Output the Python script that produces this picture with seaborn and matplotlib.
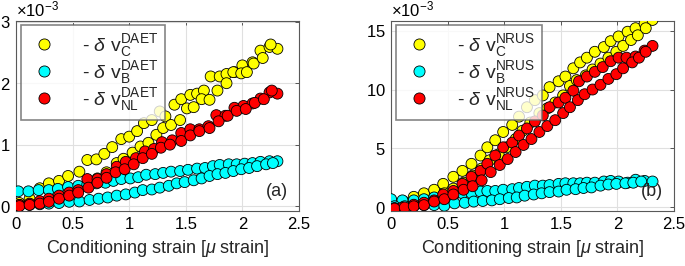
import numpy as np
import pandas as pd
import matplotlib
matplotlib.use('Agg')
import matplotlib.pyplot as plt
import seaborn as sns
from matplotlib.lines import Line2D
from matplotlib.ticker import ScalarFormatter, FuncFormatter

## data, y values in units of 1e-3
## (a) DAET : two branches per series (upper / lower)
a_C_x_up = [0.03,0.12,0.21,0.29,0.38,0.46,0.56,0.63,0.71,0.78,0.85,0.93,1.00,1.07,1.13,1.20,1.27,1.32,1.40,1.46,1.54,1.60,1.66,1.72,1.80,1.86,1.93,2.00,2.09,2.16,2.24,2.31]
a_C_y_up = [0.05,0.12,0.29,0.37,0.41,0.49,0.56,0.75,0.76,0.85,0.96,1.09,1.13,1.22,1.35,1.40,1.54,1.46,1.65,1.74,1.81,1.83,1.88,2.11,2.11,2.15,2.18,2.29,2.34,2.53,2.59,2.56]
a_C_x_lo = [0.03,0.12,0.21,0.29,0.38,0.47,0.55,0.64,0.72,0.80,0.89,0.95,1.03,1.10,1.17,1.24,1.30,1.37,1.45,1.51,1.57,1.64,1.71,1.78,1.86,1.92,1.99,2.04,2.10,2.18,2.25]
a_C_y_lo = [0.02,0.03,0.05,0.08,0.13,0.19,0.26,0.36,0.45,0.55,0.70,0.77,0.87,0.97,1.03,1.16,1.27,1.32,1.40,1.59,1.61,1.74,1.73,1.88,2.00,2.18,2.16,2.18,2.32,2.41,2.63]

a_B_x_up = [0.02,0.11,0.20,0.29,0.37,0.46,0.55,0.63,0.71,0.79,0.86,0.93,1.01,1.08,1.15,1.23,1.30,1.37,1.45,1.52,1.60,1.67,1.74,1.80,1.88,1.95,2.02,2.09,2.16,2.24,2.31]
a_B_y_up = [0.24,0.24,0.26,0.26,0.28,0.31,0.33,0.35,0.37,0.38,0.41,0.44,0.45,0.47,0.51,0.52,0.54,0.56,0.57,0.59,0.61,0.62,0.65,0.67,0.68,0.68,0.69,0.70,0.72,0.73,0.73]
a_B_x_lo = [0.03,0.12,0.21,0.29,0.38,0.47,0.56,0.65,0.73,0.81,0.89,0.97,1.05,1.12,1.20,1.27,1.35,1.42,1.49,1.57,1.64,1.71,1.78,1.85,1.92,1.99,2.06,2.13,2.21,2.27]
a_B_y_lo = [0.01,0.02,0.03,0.04,0.05,0.07,0.075,0.10,0.12,0.14,0.17,0.19,0.22,0.26,0.27,0.30,0.33,0.37,0.39,0.42,0.45,0.49,0.52,0.54,0.57,0.60,0.62,0.65,0.68,0.70]

a_NL_x_up = [0.03,0.12,0.21,0.29,0.38,0.47,0.55,0.63,0.72,0.80,0.89,0.97,1.06,1.14,1.22,1.29,1.38,1.46,1.54,1.62,1.70,1.77,1.85,1.93,2.01,2.09,2.16,2.24,2.31]
a_NL_y_up = [0.02,0.04,0.08,0.12,0.17,0.22,0.26,0.44,0.44,0.52,0.64,0.72,0.78,0.89,0.93,1.04,1.07,1.19,1.25,1.25,1.30,1.48,1.47,1.60,1.63,1.67,1.75,1.85,1.83]
a_NL_x_lo = [0.03,0.12,0.21,0.29,0.38,0.47,0.55,0.64,0.72,0.80,0.88,0.96,1.04,1.12,1.20,1.28,1.36,1.46,1.54,1.62,1.71,1.79,1.87,1.95,2.03,2.11,2.19,2.26]
a_NL_y_lo = [0.00,0.02,0.04,0.07,0.12,0.17,0.22,0.30,0.38,0.46,0.55,0.60,0.68,0.78,0.85,0.95,1.00,1.06,1.15,1.22,1.27,1.38,1.47,1.55,1.58,1.68,1.74,1.88]

## (b) NRUS
b_C_x_up = [0.03,0.11,0.20,0.29,0.38,0.46,0.55,0.63,0.71,0.79,0.85,0.92,0.99,1.07,1.13,1.20,1.27,1.34,1.40,1.48,1.54,1.61,1.67,1.73,1.80,1.88,1.94,2.01,2.09,2.16,2.24,2.31]
b_C_y_up = [0.3,0.5,0.9,1.2,1.5,2.0,2.6,3.1,3.7,4.4,5.1,5.7,6.4,7.0,7.7,8.5,9.1,9.5,10.2,10.7,11.1,11.8,12.3,12.7,13.2,13.6,14.1,14.5,14.9,15.2,15.6,15.9]
b_C_x_lo = [0.03,0.12,0.21,0.29,0.38,0.47,0.55,0.64,0.72,0.80,0.87,0.95,1.02,1.10,1.16,1.23,1.31,1.38,1.45,1.52,1.58,1.64,1.72,1.78,1.85,1.92,1.99,2.05,2.12,2.18,2.25]
b_C_y_lo = [0.0,0.1,0.3,0.6,0.8,1.2,1.6,2.1,2.7,3.3,4.0,4.5,5.1,5.8,6.5,7.2,8.0,8.4,8.9,9.5,10.3,10.8,11.2,11.7,12.2,12.7,13.2,13.7,14.2,14.6,15.2]

b_B_x_up = [0.00,0.10,0.20,0.29,0.38,0.46,0.55,0.63,0.71,0.79,0.85,0.92,0.99,1.07,1.13,1.20,1.27,1.34,1.40,1.48,1.54,1.61,1.67,1.73,1.80,1.88,1.94,2.01,2.09,2.16,2.24,2.31]
b_B_y_up = [0.7,0.6,0.6,0.7,0.85,0.9,1.0,1.2,1.2,1.35,1.4,1.4,1.5,1.55,1.65,1.75,1.85,1.85,1.9,2.0,2.05,2.05,2.05,2.1,2.1,2.2,2.25,2.2,2.1,2.35,2.25,2.2]
b_B_x_lo = [0.03,0.12,0.20,0.29,0.38,0.47,0.56,0.65,0.73,0.81,0.89,0.96,1.04,1.11,1.18,1.26,1.33,1.40,1.48,1.55,1.63,1.70,1.77,1.85,1.92,1.99,2.07,2.14,2.21]
b_B_y_lo = [0.1,0.1,0.15,0.2,0.2,0.15,0.35,0.4,0.5,0.55,0.6,0.7,0.8,0.85,1.0,1.1,1.2,1.3,1.35,1.5,1.55,1.65,1.7,1.85,1.95,2.0,2.05,2.1,2.2]

b_NL_x_up = [0.03,0.10,0.20,0.29,0.38,0.46,0.55,0.63,0.71,0.79,0.85,0.92,0.99,1.07,1.13,1.20,1.27,1.34,1.40,1.48,1.54,1.61,1.66,1.73,1.80,1.87,1.94,2.01,2.08,2.16,2.24,2.31]
b_NL_y_up = [-0.05,0.0,0.23,0.4,0.6,1.1,1.4,2.0,2.6,3.1,3.7,4.4,5.1,5.5,6.1,6.7,7.3,7.8,8.5,8.9,9.3,9.9,10.7,11.1,11.5,11.9,12.4,12.7,12.7,12.8,13.3,13.7]
b_NL_x_lo = [0.03,0.12,0.20,0.29,0.38,0.47,0.55,0.64,0.72,0.80,0.88,0.96,1.03,1.10,1.17,1.24,1.31,1.38,1.45,1.52,1.58,1.65,1.71,1.78,1.85,1.92,1.99,2.05,2.13,2.19,2.25]
b_NL_y_lo = [-0.1,0.0,0.1,0.2,0.5,0.7,1.1,1.5,1.8,2.3,3.0,3.6,4.1,4.7,5.3,5.8,6.4,6.9,7.4,8.0,8.5,9.1,9.6,10.0,10.4,10.9,11.3,11.8,12.3,12.7,13.2]

series_order = ['C', 'B', 'NL']
colors = {'C': '#FFFF00', 'B': '#00FFFF', 'NL': '#FF0000'}


def make_df(parts):
    rows = []
    for name, xu, yu, xl, yl in parts:
        xs = list(xu) + list(xl)
        ys = list(yu) + list(yl)
        rows.append(pd.DataFrame({'strain': xs, 'dv': np.array(ys) * 1e-3, 'series': name}))
    return pd.concat(rows, ignore_index=True)


df_a = make_df([('C', a_C_x_up, a_C_y_up, a_C_x_lo, a_C_y_lo),
                ('B', a_B_x_up, a_B_y_up, a_B_x_lo, a_B_y_lo),
                ('NL', a_NL_x_up, a_NL_y_up, a_NL_x_lo, a_NL_y_lo)])
df_b = make_df([('C', b_C_x_up, b_C_y_up, b_C_x_lo, b_C_y_lo),
                ('B', b_B_x_up, b_B_y_up, b_B_x_lo, b_B_y_lo),
                ('NL', b_NL_x_up, b_NL_y_up, b_NL_x_lo, b_NL_y_lo)])

sns.set_style('white')
plt.rcParams['font.family'] = ['Liberation Sans', 'DejaVu Sans']
plt.rcParams['mathtext.fontset'] = 'custom'
plt.rcParams['mathtext.rm'] = 'Liberation Sans'
plt.rcParams['mathtext.it'] = 'Liberation Sans:italic'
plt.rcParams['mathtext.bf'] = 'Liberation Sans:bold'

fig = plt.figure(figsize=(6.85, 2.66), dpi=100)
ax_a = fig.add_axes([0.0234, 0.2068, 0.413, 0.716])
ax_b = fig.add_axes([0.571, 0.2068, 0.413, 0.716])

panels = [(ax_a, df_a, 'DAET', (-0.08e-3, 3.02e-3), [0, 1e-3, 2e-3, 3e-3], '(a)'),
          (ax_b, df_b, 'NRUS', (-0.3e-3, 15.85e-3), [0, 5e-3, 10e-3, 15e-3], '(b)')]

for ax, df, tag, ylim, yticks, panel_label in panels:
    sns.scatterplot(data=df, x='strain', y='dv', hue='series', hue_order=series_order,
                    palette=colors, s=62, edgecolor='black', linewidth=0.6,
                    legend=False, ax=ax, zorder=3)
    ax.set_xlim(0, 2.5)
    ax.set_ylim(*ylim)
    ax.set_xticks([0, 0.5, 1, 1.5, 2, 2.5])
    ax.xaxis.set_major_formatter(FuncFormatter(lambda v, p: '%g' % v))
    ax.set_yticks(yticks)
    fmt = ScalarFormatter(useMathText=True)
    fmt.set_powerlimits((-3, -3))
    ax.yaxis.set_major_formatter(fmt)
    ax.yaxis.get_offset_text().set_fontsize(12)
    ax.grid(True, color='0.88', linewidth=0.8, zorder=0)
    ax.set_axisbelow(True)
    ax.tick_params(direction='in', length=3, width=0.6, colors='0.25', labelcolor='black',
                   labelsize=12, top=True, right=True, pad=4)
    for sp in ax.spines.values():
        sp.set_color('0.35')
        sp.set_linewidth(0.8)
    ax.set_xlabel(r'Conditioning strain [$\mu$ strain]', fontsize=13, labelpad=5)
    ax.set_ylabel('')
    ax.text(0.96, 0.06, panel_label, transform=ax.transAxes, ha='right', va='bottom', fontsize=13)

    handles = [Line2D([], [], marker='o', ls='', mfc=colors[k], mec='black', mew=0.6, ms=8)
               for k in series_order]
    labels = [r'- $\delta$ v$_{\rm %s}^{\rm %s}$' % (k, tag) for k in series_order]
    leg = ax.legend(handles, labels, loc='upper left', bbox_to_anchor=(0.017, 0.975),
                    borderaxespad=0, fontsize=14, frameon=True, fancybox=False,
                    edgecolor='0.4', handletextpad=1.15, borderpad=0.35,
                    labelspacing=0.0, handlelength=1.65)
    leg.get_frame().set_linewidth(1.2)

fig.savefig('out.png', dpi=100)
